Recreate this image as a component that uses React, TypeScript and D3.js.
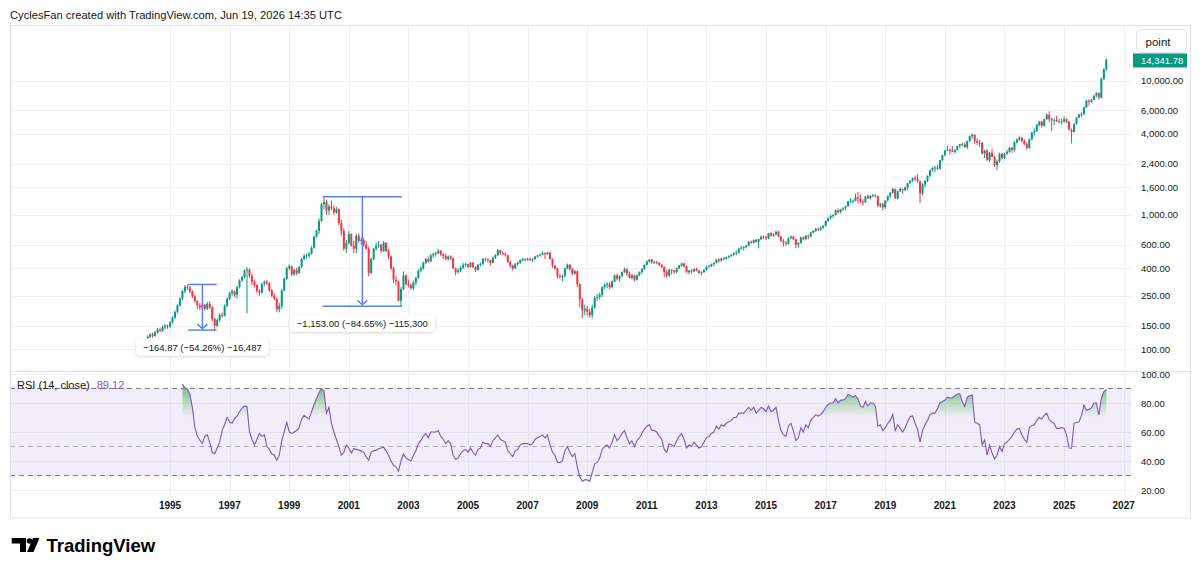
import React, { useEffect, useRef } from "react";
import * as d3 from "d3";

// monthly bars [open, high, low, close]; first bar is April 1994
const firstBar = -9; // months relative to Jan 1995
const ohlc: number[][] = [
  // 1994
  [118,127,115,124],[124,132,121,129],[129,133,122,126],[126,137,124,134],[134,144,131,140],[140,145,134,137],[137,150,135,146],[146,154,141,150],[150,153,142,148],
  // 1995
  [148,162,144,158],[158,176,155,172],[172,194,168,190],[190,216,186,212],[212,242,208,238],[238,276,232,270],[270,300,262,292],[292,303.85,276,288],[288,298,262,270],[270,276,240,248],[248,256,222,228],[228,232,200,212],
  // 1996
  [212,220,196,205],[205,224,200,215],[215,218,194,200],[200,226,196,218],[218,228,200,205],[205,210,162,168],[168,172,138.98,150],[150,170,146,165],[165,186,160,180],[180,188,172,178],[178,216,175,210],[210,244,206,238],
  // 1997
  [238,268,232,262],[262,280,250,270],[270,275,245,255],[255,296,240,290],[290,332,284,325],[325,352,318,345],[345,392,338,385],[385,410,185,392],[392,400,340,350],[350,365,300,318],[318,330,290,300],[300,305,262,272],
  // 1998
  [272,280,250,265],[265,312,260,305],[305,325,296,318],[318,330,300,312],[312,316,268,275],[275,282,244,250],[250,262,232,238],[238,242,190,198],[198,222,188,210],[210,282,200,275],[275,342,270,335],[335,410,328,400],
  // 1999
  [400,430,390,415],[415,420,350,360],[360,398,352,390],[390,405,355,370],[370,418,362,410],[410,478,400,470],[470,510,462,495],[495,512,470,500],[500,528,480,515],[515,585,505,570],[570,700,560,690],[690,780,680,760],
  // 2000
  [760,940,720,900],[900,1230,880,1200],[1200,1362.1,1100,1250],[1250,1300,1000,1080],[1080,1200,1000,1150],[1150,1280,1080,1120],[1120,1180,1000,1040],[1040,1150,1020,1100],[1100,1120,840,870],[870,920,700,760],[760,800,540,560],[560,650,520,620],
  // 2001
  [620,760,600,720],[720,730,580,590],[590,640,520,560],[560,720,520,700],[700,730,620,640],[640,680,600,650],[650,670,580,600],[600,640,550,560],[560,580,350,370],[370,480,360,470],[470,570,460,560],[560,620,540,590],
  // 2002
  [590,640,570,600],[600,610,520,540],[540,640,530,620],[620,630,530,540],[540,560,470,490],[490,500,390,400],[400,410,310,330],[330,350,300,320],[320,325,228,230],[230,290,209.1,280],[280,380,275,355],[355,360,298,305],
  // 2003
  [305,330,290,300],[300,310,278,285],[285,325,275,315],[315,345,300,340],[340,392,335,385],[385,415,375,400],[400,450,392,440],[440,478,430,470],[470,490,440,450],[450,510,445,500],[500,525,480,510],[510,530,490,520],
  // 2004
  [520,560,510,540],[540,548,495,510],[510,520,470,495],[495,515,460,470],[470,500,455,490],[490,500,460,475],[475,480,395,400],[400,405,355,375],[375,400,365,385],[385,415,375,405],[405,440,395,425],[425,440,410,430],
  // 2005
  [430,435,400,410],[410,448,405,440],[440,445,402,410],[410,415,375,390],[390,432,385,425],[425,442,415,430],[430,478,425,470],[470,480,450,465],[465,475,440,460],[460,465,420,440],[440,490,435,480],[480,510,470,500],
  // 2006
  [500,558,495,545],[545,550,505,520],[520,535,505,510],[510,525,490,500],[500,505,440,445],[445,455,405,420],[420,425,385,400],[400,440,395,430],[430,450,420,440],[440,468,430,460],[460,480,450,470],[470,475,450,465],
  // 2007
  [465,480,455,470],[470,482,455,460],[460,475,445,470],[470,495,465,490],[490,505,480,500],[500,515,490,505],[505,535,500,520],[520,525,470,510],[510,530,500,525],[525,535,465,470],[470,475,405,420],[420,425,390,400],
  // 2008
  [400,405,335,350],[350,365,335,345],[345,360,320,350],[350,405,345,400],[400,435,395,425],[425,430,385,395],[395,405,355,365],[365,390,360,380],[380,385,290,305],[305,310,205,235],[235,240,170,195],[195,215,180,200],
  // 2009
  [200,210,178,190],[190,200,172,180],[180,215,170,205],[205,250,200,240],[240,258,230,245],[245,265,235,255],[255,295,245,290],[290,310,280,300],[300,318,285,305],[305,315,280,290],[290,325,285,320],[320,360,315,355],
  // 2010
  [355,365,325,335],[335,355,320,350],[350,380,345,375],[375,405,370,395],[395,400,350,365],[365,380,335,340],[340,365,330,355],[355,360,320,330],[330,360,325,355],[355,380,350,375],[375,400,365,395],[395,428,390,425],
  // 2011
  [425,458,420,450],[450,470,440,465],[465,470,430,445],[445,455,430,445],[445,455,430,440],[440,445,415,425],[425,430,400,410],[410,415,345,375],[375,390,340,355],[355,400,345,390],[390,395,360,385],[385,390,365,375],
  // 2012
  [375,405,370,400],[400,425,395,420],[420,440,410,435],[435,440,405,415],[415,420,370,375],[375,390,362,385],[385,395,365,380],[380,400,375,395],[395,405,380,385],[385,390,362,370],[370,380,355,375],[375,395,370,390],
  // 2013
  [390,415,385,410],[410,425,405,415],[415,435,410,430],[430,445,415,440],[440,472,435,465],[465,475,440,455],[455,480,450,475],[475,485,460,470],[470,490,465,485],[485,500,475,495],[495,510,485,505],[505,525,495,520],
  // 2014
  [520,545,500,525],[525,565,515,560],[560,590,550,570],[570,585,545,575],[575,600,565,590],[590,640,585,630],[630,645,610,620],[620,655,610,650],[650,665,620,630],[630,665,565,660],[660,700,650,690],[690,705,660,685],
  // 2015
  [685,700,650,670],[670,735,660,730],[730,745,690,700],[700,730,690,715],[715,760,705,750],[750,760,685,690],[690,700,630,640],[640,660,585,620],[620,640,590,610],[610,680,600,670],[670,700,660,690],[690,700,650,660],
  // 2016
  [660,665,565,600],[600,625,570,620],[620,690,610,680],[680,690,650,660],[660,710,645,700],[700,715,660,690],[690,745,680,740],[740,770,730,760],[760,800,745,790],[790,805,760,780],[780,820,760,800],[800,840,790,830],
  // 2017
  [830,910,820,900],[900,955,890,950],[950,1000,930,980],[980,1010,950,1000],[1000,1100,990,1080],[1080,1120,1020,1050],[1050,1110,1030,1100],[1100,1140,1070,1120],[1120,1170,1080,1160],[1160,1270,1150,1260],[1260,1330,1230,1270],[1270,1300,1220,1270],
  // 2018
  [1270,1440,1260,1350],[1350,1480,1220,1320],[1320,1420,1230,1250],[1250,1300,1170,1240],[1240,1380,1230,1370],[1370,1420,1310,1330],[1330,1400,1300,1390],[1390,1430,1350,1400],[1400,1420,1340,1380],[1380,1390,1140,1170],[1170,1230,1130,1200],[1200,1230,1080,1140],
  // 2019
  [1140,1290,1110,1280],[1280,1400,1260,1380],[1380,1480,1340,1460],[1460,1590,1440,1560],[1560,1570,1310,1330],[1330,1520,1300,1500],[1500,1600,1480,1560],[1560,1570,1430,1530],[1530,1630,1500,1600],[1600,1730,1520,1720],[1720,1820,1700,1800],[1800,1900,1760,1880],
  // 2020
  [1880,1950,1800,1850],[1850,2000,1740,1780],[1780,1800,1220,1450],[1450,1720,1400,1680],[1680,1820,1600,1790],[1790,1970,1750,1950],[1950,2170,1900,2150],[2150,2260,2100,2230],[2230,2320,2080,2250],[2250,2360,2170,2200],[2200,2580,2180,2550],[2550,2800,2520,2780],
  // 2021
  [2780,3060,2750,3000],[3000,3260,2980,3050],[3050,3120,2800,3000],[3000,3250,2930,2950],[2950,3080,2870,3050],[3050,3280,3000,3250],[3250,3380,3150,3350],[3350,3440,3250,3350],[3350,3460,3150,3200],[3200,3570,3100,3550],[3550,3900,3500,3850],[3850,4039,3700,3950],
  // 2022
  [3950,3980,3350,3550],[3550,3700,3300,3450],[3450,3620,3200,3450],[3450,3480,2820,2850],[2850,3050,2650,3000],[3000,3100,2520,2550],[2550,2950,2480,2900],[2900,3100,2680,2700],[2700,2760,2280,2350],[2350,2580,2162,2500],[2500,2900,2450,2850],[2850,2900,2580,2650],
  // 2023
  [2650,2900,2600,2850],[2850,3050,2800,2950],[2950,3200,2900,3150],[3150,3200,2900,3050],[3050,3550,2950,3450],[3450,3700,3400,3650],[3650,3850,3550,3750],[3750,3800,3450,3550],[3550,3650,3300,3350],[3350,3500,3050,3150],[3150,3700,3100,3650],[3650,4150,3600,4100],
  // 2024
  [4100,4400,3900,4200],[4200,4750,4150,4650],[4650,5000,4550,4950],[4950,5000,4450,4600],[4600,5200,4550,5150],[5150,5700,5100,5550],[5550,5900,4900,5150],[5150,5300,4200,5050],[5050,5250,4650,5100],[5100,5450,4900,4950],[4950,5200,4800,4950],[4950,5200,4700,4950],
  // 2025
  [4950,5400,4850,5150],[5150,5250,4800,4950],[4950,5000,4250,4300],[4300,4400,3400,4150],[4150,4800,4100,4750],[4750,5350,4700,5300],[5300,5650,5250,5550],[5550,5800,5350,5650],[5650,6400,5500,6300],[6300,7200,6250,7050],[7050,7300,6500,6950],[6950,7300,6800,7150],
  // 2026
  [7150,7800,7100,7700],[7700,8200,7500,8050],[8050,8150,7200,7450],[7450,10500,7300,10300],[10300,12300,10100,12100],[12100,14500,11800,14341.78],
];

// RSI(14) on monthly closes, first value June 1995
const rsiStart = 5;
const rsiValues = [
  93, 90.5, 89.5, 86, 77, 63, 57,
  54.5, 52, 57, 58, 53, 46, 45, 49, 53, 61, 65, 70,
  67, 66, 69.5, 71, 74, 76.5, 78, 77.5, 60, 55, 51, 55,
  59, 57, 58, 50, 48, 45, 44, 40.5, 44, 54, 60, 67,
  60, 59, 60, 61, 63, 69, 71.5, 70, 69, 74, 79, 83,
  87, 90, 88.5, 73, 77, 66, 60, 55, 50, 44, 46, 51,
  49, 45.5, 48.5, 48, 47.5, 47, 46, 43, 40.5, 46, 47, 47.5,
  48.5, 49, 49.5, 47, 44, 40, 37, 36, 33, 40, 45, 42,
  41, 40, 44, 47, 52, 54, 57, 59, 56, 60, 60, 60,
  61, 57, 55, 52, 54, 52, 44, 41, 42, 45, 47, 48,
  46, 49, 46, 44, 48, 49, 53, 52, 52, 50, 54, 56,
  58, 55, 54, 53, 47, 45, 43, 47, 48, 51, 52, 52,
  52, 51, 52, 55, 56, 57, 58, 56, 58, 51, 46, 44,
  39, 39, 40, 47, 50, 46, 43, 45, 36, 29, 26, 27,
  27, 26, 32, 38, 39, 42, 48, 50, 51, 49, 53, 58,
  54, 56, 59, 61, 56, 52, 54, 50, 54, 56, 59, 62,
  64, 65, 61, 61, 60, 57, 55, 48, 46, 52, 51, 50,
  54, 57, 59, 55, 49, 51, 50, 53, 51, 49, 50, 53,
  56, 57, 59, 60, 64, 62, 65, 64, 66, 67, 68, 70,
  70, 73, 73, 73, 75, 77, 75, 77, 73, 75, 77, 76,
  74, 78, 74, 75, 77, 68, 61, 58, 57, 64, 66, 61,
  54, 56, 63, 60, 65, 63, 68, 70, 72, 71, 72, 74,
  77, 79, 80, 80, 83, 80, 82, 82, 83, 86, 85, 84,
  85, 83, 78, 77, 81, 78, 80, 80, 78, 64, 65, 61,
  63, 66, 68, 72, 61, 65, 62.5, 60, 63, 67, 70.5, 71,
  66, 62, 53, 61, 65, 68, 72, 73, 73, 76, 80, 81,
  82, 84, 83.5, 83.5, 85, 86, 86.5, 81, 77.5, 84, 85, 85.5,
  67, 66, 65, 51, 54.5, 44, 51, 45.5, 41.5, 44, 50, 46.5,
  52, 53, 55, 57, 60, 62, 62.5, 58, 55, 53, 63, 64.5,
  65, 68, 70, 69, 71.5, 73, 68.5, 67, 66, 62.5, 62.5, 63,
  62.5, 58, 49, 48.8, 66, 66.5, 67, 71.5, 78.5, 75, 75.5, 76.5,
  80, 80, 71.7, 83, 87.8, 89.12,
];

const yearLabels = [1995, 1997, 1999, 2001, 2003, 2005, 2007, 2009, 2011, 2013, 2015, 2017, 2019, 2021, 2023, 2025, 2027];
const priceTicks = [100, 150, 250, 400, 600, 1000, 1600, 2400, 4000, 6000, 10000];
const rsiTicks = [20, 40, 60, 80, 100];
const rsiBands = [90, 50, 30];

// price range measurements: from price, to price, start/end month
const rangeFrom = [303.85, 1362.1];
const rangeTo = [138.98, 209.1];
const rangeStart = [7.3, 61.5];
const rangeEnd = [18.8, 93.4];

const UP = "#089981";
const DOWN = "#F23645";
const TEXT = "#131722";
const FONT = "'Liberation Sans', Arial, sans-serif";

const App = () => {
  const svgRef = useRef<SVGSVGElement | null>(null);

  useEffect(() => {
    const svg = d3.select(svgRef.current);
    svg.selectAll("*").remove();

    const left = 10, right = 1131, axisRight = 1190;
    const mainTop = 26, mainBottom = 370, rsiTop = 372, rsiBottom = 496, frameBottom = 518;

    const x = d3.scaleLinear().domain([0, 384]).range([170, 1123.7]);
    const y = d3.scaleLog().domain([100, 10000]).range([349.3, 80.5]);
    const yr = d3.scaleLinear().domain([20, 80]).range([490, 403]);

    const defs = svg.append("defs");
    defs.append("clipPath").attr("id", "mainClip").append("rect")
      .attr("x", left).attr("y", mainTop).attr("width", right - left).attr("height", mainBottom - mainTop);
    defs.append("clipPath").attr("id", "rsiClip").append("rect")
      .attr("x", left).attr("y", rsiTop).attr("width", right - left).attr("height", rsiBottom - rsiTop);
    defs.append("clipPath").attr("id", "rsiAxisClip").append("rect")
      .attr("x", right).attr("y", rsiTop).attr("width", axisRight - right).attr("height", rsiBottom - rsiTop);

    const ob = defs.append("linearGradient").attr("id", "obFill")
      .attr("gradientUnits", "userSpaceOnUse").attr("x1", 0).attr("x2", 0).attr("y1", yr(100)).attr("y2", yr(70));
    ob.append("stop").attr("offset", 0).attr("stop-color", "#4CAF50").attr("stop-opacity", 1);
    ob.append("stop").attr("offset", 1).attr("stop-color", "#4CAF50").attr("stop-opacity", 0);
    const os = defs.append("linearGradient").attr("id", "osFill")
      .attr("gradientUnits", "userSpaceOnUse").attr("x1", 0).attr("x2", 0).attr("y1", yr(30)).attr("y2", yr(0));
    os.append("stop").attr("offset", 0).attr("stop-color", "#FF5252").attr("stop-opacity", 0);
    os.append("stop").attr("offset", 1).attr("stop-color", "#FF5252").attr("stop-opacity", 1);

    const shadow = defs.append("filter").attr("id", "boxShadow").attr("x", "-20%").attr("y", "-50%").attr("width", "140%").attr("height", "200%");
    shadow.append("feDropShadow").attr("dx", 0).attr("dy", 1).attr("stdDeviation", 1.5)
      .attr("flood-color", "#000").attr("flood-opacity", 0.18);

    svg.append("rect").attr("width", 1200).attr("height", 574).attr("fill", "#fff");

    // title
    svg.append("text").attr("x", 10).attr("y", 18.5)
      .attr("font-family", FONT).attr("font-size", 11).attr("fill", TEXT)
      .attr("textLength", 332).attr("lengthAdjust", "spacingAndGlyphs")
      .text("CyclesFan created with TradingView.com, Jun 19, 2026 14:35 UTC");

    // grid
    const grid = svg.append("g").attr("stroke", "#eff0f4").attr("stroke-width", 1);
    yearLabels.forEach((yr0) => {
      const xx = Math.round(x((yr0 - 1995) * 12)) + 0.5;
      grid.append("line").attr("x1", xx).attr("x2", xx).attr("y1", mainTop).attr("y2", mainBottom);
      grid.append("line").attr("x1", xx).attr("x2", xx).attr("y1", rsiTop).attr("y2", rsiBottom);
    });
    priceTicks.forEach((t) => {
      const yy = Math.round(y(t)) + 0.5;
      grid.append("line").attr("x1", left).attr("x2", right).attr("y1", yy).attr("y2", yy);
    });
    rsiTicks.forEach((t) => {
      const yy = Math.round(yr(t)) + 0.5;
      if (yy > rsiTop && yy < rsiBottom)
        grid.append("line").attr("x1", left).attr("x2", right).attr("y1", yy).attr("y2", yy);
    });

    // candles
    const candles = svg.append("g").attr("clip-path", "url(#mainClip)");
    const bars = ohlc.map((d, i) => ({ k: i + firstBar, o: d[0], h: d[1], l: d[2], c: d[3] }));
    candles.selectAll("line.wick").data(bars).enter().append("line")
      .attr("x1", (d) => x(d.k)).attr("x2", (d) => x(d.k))
      .attr("y1", (d) => y(d.h)).attr("y2", (d) => y(d.l))
      .attr("stroke", (d) => (d.c >= d.o ? UP : DOWN)).attr("stroke-width", 1);
    candles.selectAll("rect.body").data(bars).enter().append("rect")
      .attr("x", (d) => x(d.k) - 1).attr("width", 2)
      .attr("y", (d) => y(Math.max(d.o, d.c)))
      .attr("height", (d) => Math.max(Math.abs(y(d.o) - y(d.c)), 0.8))
      .attr("fill", (d) => (d.c >= d.o ? UP : DOWN));

    // price range tools
    const tool = svg.append("g");
    const blue = "#5b7ff8";
    rangeFrom.forEach((p0, i) => {
      const p1 = rangeTo[i];
      const x0 = x(rangeStart[i]), x1 = x(rangeEnd[i]);
      const xm = (x0 + x1) / 2;
      const y0 = y(p0), y1 = y(p1);
      tool.append("line").attr("x1", x0).attr("x2", x1).attr("y1", y0).attr("y2", y0).attr("stroke", blue).attr("stroke-width", 1.5);
      tool.append("line").attr("x1", x0).attr("x2", x1).attr("y1", y1).attr("y2", y1).attr("stroke", blue).attr("stroke-width", 1.5);
      tool.append("line").attr("x1", xm).attr("x2", xm).attr("y1", y0).attr("y2", y1 - 1).attr("stroke", blue).attr("stroke-width", 1.5);
      tool.append("path").attr("d", `M${xm - 5},${y1 - 6}L${xm},${y1 - 1.5}L${xm + 5},${y1 - 6}`)
        .attr("fill", "none").attr("stroke", blue).attr("stroke-width", 1.5);

      const diff = p1 - p0;
      const label = `${d3.format(",.2f")(diff)} (${d3.format(".2f")((diff / p0) * 100)}%) ${d3.format(",")(Math.round(diff * 100))}`;
      const lt = tool.append("text").attr("x", xm).attr("y", y1 + 17).attr("text-anchor", "middle")
        .attr("dominant-baseline", "central").attr("font-family", FONT).attr("font-size", 9.5).attr("fill", TEXT).text(label);
      const bb = (lt.node() as SVGTextElement).getBBox();
      tool.insert("rect", () => lt.node())
        .attr("x", bb.x - 7).attr("y", y1 + 8.5).attr("width", bb.width + 14).attr("height", 17)
        .attr("rx", 4).attr("fill", "#fff").attr("filter", "url(#boxShadow)");
    });

    // RSI pane
    const rsi = svg.append("g").attr("clip-path", "url(#rsiClip)");
    rsi.append("rect").attr("x", left).attr("width", right - left)
      .attr("y", yr(rsiBands[0])).attr("height", yr(rsiBands[2]) - yr(rsiBands[0]))
      .attr("fill", "#7E57C2").attr("fill-opacity", 0.1);
    rsiBands.forEach((b, i) => {
      rsi.append("line").attr("x1", left).attr("x2", right).attr("y1", yr(b)).attr("y2", yr(b))
        .attr("stroke", "#787B86").attr("stroke-opacity", i === 1 ? 0.55 : 1)
        .attr("stroke-dasharray", "5,4").attr("stroke-width", 1);
    });
    const pts = rsiValues.map((v, i) => ({ k: i + rsiStart, v }));
    const upper = d3.area<{ k: number; v: number }>()
      .x((d) => x(d.k)).y0(yr(70)).y1((d) => yr(Math.max(d.v, 70)));
    rsi.append("path").datum(pts).attr("d", upper).attr("fill", "url(#obFill)");
    const lower = d3.area<{ k: number; v: number }>()
      .x((d) => x(d.k)).y0(yr(30)).y1((d) => yr(Math.min(d.v, 30)));
    rsi.append("path").datum(pts).attr("d", lower).attr("fill", "url(#osFill)");
    const line = d3.line<{ k: number; v: number }>().x((d) => x(d.k)).y((d) => yr(d.v));
    rsi.append("path").datum(pts).attr("d", line).attr("fill", "none")
      .attr("stroke", "#7E57C2").attr("stroke-width", 1.1);

    const legend = svg.append("text").attr("x", 17).attr("y", 385).attr("dominant-baseline", "central")
      .attr("font-family", FONT).attr("font-size", 11).attr("fill", TEXT);
    legend.append("tspan").text("RSI (14, close)");
    legend.append("tspan").attr("dx", 7).attr("fill", "#7E57C2").text(d3.format(".2f")(rsiValues[rsiValues.length - 1]));

    // frame and separators
    svg.append("rect").attr("x", left + 0.5).attr("y", mainTop - 0.5).attr("width", axisRight - left).attr("height", frameBottom - mainTop + 0.5)
      .attr("fill", "none").attr("stroke", "#e0e3eb");
    svg.append("line").attr("x1", left).attr("x2", axisRight).attr("y1", 371.5).attr("y2", 371.5).attr("stroke", "#e0e3eb");

    // price axis
    const axis = svg.append("g").attr("font-family", FONT).attr("font-size", 9.5).attr("fill", TEXT);
    priceTicks.forEach((t) => {
      axis.append("text").attr("x", 1141).attr("y", y(t)).attr("dominant-baseline", "central").text(d3.format(",.2f")(t));
    });
    const rsiAxis = svg.append("g").attr("clip-path", "url(#rsiAxisClip)")
      .attr("font-family", FONT).attr("font-size", 9.5).attr("fill", TEXT);
    rsiTicks.forEach((t) => {
      rsiAxis.append("text").attr("x", 1141).attr("y", yr(t)).attr("dominant-baseline", "central").text(d3.format(".2f")(t));
    });

    // last price label
    const last = ohlc[ohlc.length - 1][3];
    svg.append("rect").attr("x", 1133).attr("y", y(last) - 6).attr("width", 54).attr("height", 14).attr("fill", UP);
    svg.append("text").attr("x", 1141).attr("y", y(last) + 1).attr("dominant-baseline", "central")
      .attr("font-family", FONT).attr("font-size", 9.5).attr("fill", "#fff").text(d3.format(",.2f")(last));

    // scale mode button
    svg.append("rect").attr("x", 1136.5).attr("y", 29.5).attr("width", 50).attr("height", 23).attr("rx", 4)
      .attr("fill", "#fff").attr("stroke", "#e0e3eb");
    svg.append("text").attr("x", 1158).attr("y", 41.5).attr("text-anchor", "middle").attr("dominant-baseline", "central")
      .attr("font-family", FONT).attr("font-size", 11.5).attr("fill", TEXT).text("point");

    // time axis
    const timeAxis = svg.append("g").attr("font-family", FONT).attr("font-size", 10).attr("font-weight", "bold").attr("fill", TEXT);
    yearLabels.forEach((yr0) => {
      timeAxis.append("text").attr("x", x((yr0 - 1995) * 12)).attr("y", 509).attr("text-anchor", "middle").text(yr0);
    });

    // brand
    const logo = svg.append("g").attr("fill", "#000");
    logo.append("path").attr("d", "M11.7,538H26V552H20V543.5H11.7Z");
    logo.append("circle").attr("cx", 29.5).attr("cy", 541).attr("r", 2.8);
    logo.append("path").attr("d", "M33,538H39.5L33.5,552H27Z");
    svg.append("text").attr("x", 46.5).attr("y", 552).attr("font-family", FONT).attr("font-size", 18.5)
      .attr("font-weight", "bold").attr("fill", "#000").text("TradingView");
  }, []);

  return <svg ref={svgRef} width={1200} height={574} style={{ position: "absolute", left: 0, top: 0 }} />;
};

export default App;
